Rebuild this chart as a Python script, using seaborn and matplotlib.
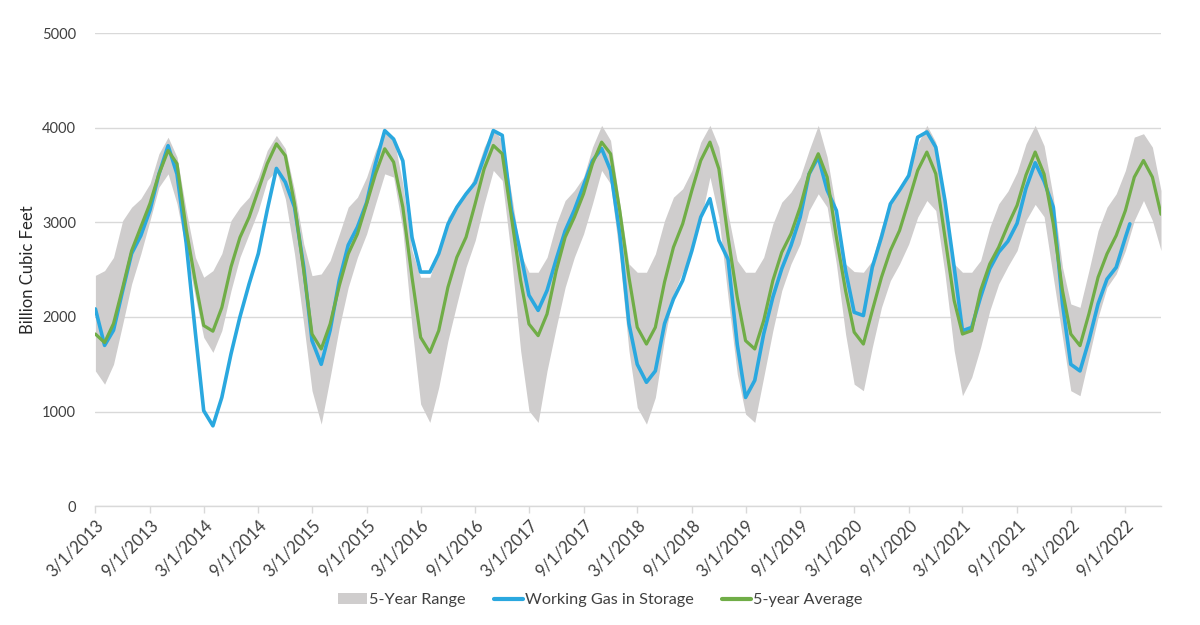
import numpy as np
import pandas as pd
import matplotlib
matplotlib.use("Agg")
import matplotlib.pyplot as plt
import matplotlib.dates as mdates
from matplotlib.patches import Patch
from matplotlib.lines import Line2D
import seaborn as sns

# ---------- data (Bcf, first of each month) ---------- #
month_starts = pd.date_range("2013-03-01", "2022-12-01", freq="MS")
range_end = pd.Timestamp("2022-12-30")
storage_end = pd.Timestamp("2022-09-16")

working_gas = [
    2085, 1700, 1860, 2280, 2670, 2860, 3130, 3510, 3810, 3510,   # 2013
    2780, 1830, 1010, 850, 1150, 1610, 2000, 2350, 2670, 3130, 3570, 3425,   # 2014
    3160, 2530, 1750, 1500, 1860, 2390, 2760, 2950, 3210, 3620, 3970, 3880,  # 2015
    3650, 2840, 2475, 2475, 2670, 2980, 3160, 3300, 3420, 3690, 3970, 3920,  # 2016
    3130, 2670, 2230, 2070, 2280, 2610, 2910, 3130, 3390, 3650, 3780, 3550,  # 2017
    2880, 1930, 1500, 1310, 1430, 1930, 2190, 2385, 2700, 3055, 3250, 2810,  # 2018
    2610, 1710, 1150, 1330, 1820, 2210, 2510, 2755, 3055, 3510, 3690, 3340,  # 2019
    3125, 2490, 2050, 2015, 2525, 2845, 3195, 3340, 3495, 3900, 3955, 3795,  # 2020
    3230, 2525, 1855, 1890, 2210, 2510, 2685, 2800, 2990, 3360, 3630, 3435,  # 2021
    3160, 2140, 1500, 1430, 1750, 2140, 2400, 2525, 2840,                    # 2022
]
working_gas_last = 2985

five_year_avg = [
    1820, 1730, 1930, 2310, 2700, 2950, 3200, 3510, 3760, 3620,
    2930, 2370, 1910, 1850, 2100, 2530, 2840, 3055, 3340, 3620, 3830, 3705,
    3196, 2490, 1820, 1662, 1926, 2332, 2667, 2878, 3196, 3513, 3778, 3637,
    3161, 2420, 1785, 1626, 1856, 2314, 2631, 2843, 3200, 3566, 3813, 3725,
    3055, 2385, 1926, 1803, 2032, 2490, 2843, 3055, 3302, 3619, 3848, 3725,
    3125, 2420, 1891, 1714, 1891, 2370, 2737, 2984, 3337, 3654, 3848, 3566,
    2843, 2208, 1750, 1662, 1961, 2385, 2684, 2878, 3161, 3513, 3725, 3478,
    2843, 2279, 1840, 1714, 2067, 2420, 2702, 2914, 3231, 3548, 3743, 3513,
    2843, 2173, 1820, 1856, 2279, 2561, 2737, 2970, 3180, 3500, 3743, 3510,
    2984, 2279, 1820, 1697, 2032, 2420, 2667, 2861, 3125, 3478, 3654, 3478,
    3086,
]

range_max = [
    2440, 2490, 2630, 3020, 3160, 3250, 3410, 3725, 3900, 3690,
    3125, 2630, 2420, 2490, 2670, 3020, 3160, 3266, 3478, 3760, 3919, 3780,
    3337, 2773, 2437, 2455, 2596, 2878, 3161, 3266, 3478, 3760, 3954, 3901,
    3407, 2702, 2420, 2420, 2702, 3055, 3196, 3284, 3510, 3795, 3989, 3866,
    3302, 2667, 2473, 2473, 2631, 2984, 3231, 3337, 3478, 3795, 4025, 3866,
    3196, 2561, 2473, 2473, 2667, 3020, 3266, 3355, 3549, 3848, 4025, 3795,
    3090, 2596, 2473, 2473, 2631, 2984, 3214, 3320, 3478, 3760, 4025, 3690,
    3125, 2561, 2480, 2473, 2596, 2949, 3214, 3337, 3513, 3831, 4025, 3848,
    3125, 2561, 2473, 2473, 2596, 2949, 3196, 3330, 3530, 3830, 4025, 3810,
    3266, 2526, 2138, 2102, 2490, 2914, 3161, 3302, 3549, 3901, 3937, 3795,
    3337,
]

range_min = [
    1430, 1290, 1500, 1926, 2349, 2667, 3020, 3372, 3513, 3196,
    2702, 2208, 1785, 1626, 1856, 2279, 2631, 2878, 3125, 3443, 3549, 3250,
    2667, 1926, 1221, 868, 1362, 1891, 2314, 2631, 2878, 3196, 3513, 3478,
    2914, 1891, 1080, 886, 1256, 1750, 2138, 2526, 2810, 3196, 3549, 3443,
    2631, 1644, 1009, 886, 1432, 1891, 2314, 2631, 2878, 3196, 3549, 3407,
    2631, 1644, 1044, 868, 1150, 1770, 2244, 2473, 2702, 3020, 3478, 3055,
    2208, 1397, 974, 886, 1362, 1856, 2279, 2561, 2773, 3125, 3302, 3161,
    2561, 1820, 1290, 1221, 1679, 2102, 2385, 2561, 2773, 3055, 3231, 3125,
    2455, 1644, 1168, 1362, 1679, 2067, 2349, 2535, 2702, 3020, 3190, 3060,
    2420, 1785, 1221, 1168, 1573, 1997, 2314, 2455, 2702, 3020, 3231, 3020,
    2702,
]

tick_dates = pd.date_range("2013-03-01", "2022-09-01", freq="6MS")

# ---------- frames ---------- #
range_dates = month_starts.append(pd.DatetimeIndex([range_end]))
storage_dates = month_starts[:len(working_gas)].append(pd.DatetimeIndex([storage_end]))

df_range = pd.DataFrame({"date": range_dates, "avg": five_year_avg,
                         "lo": range_min, "hi": range_max})
df_gas = pd.DataFrame({"date": storage_dates, "gas": working_gas + [working_gas_last]})

# ---------- plot ---------- #
sns.set_theme(style="white")
plt.rcParams["font.family"] = ["Lato", "DejaVu Sans"]

gray = "#cfcdcd"
blue = "#2aa8df"
green = "#70ad47"
text_col = "#404040"

fig = plt.figure(figsize=(12, 6.25), dpi=100)
ax = fig.add_axes([0.0795, 0.19, 0.888, 0.757])

ax.fill_between(df_range["date"], df_range["lo"], df_range["hi"],
                color=gray, linewidth=0, zorder=1)
sns.lineplot(data=df_gas, x="date", y="gas", ax=ax, color=blue,
             linewidth=2.6, zorder=3)
sns.lineplot(data=df_range, x="date", y="avg", ax=ax, color=green,
             linewidth=2.3, zorder=4)

ax.set_xlim(pd.Timestamp("2013-03-01"), range_end)
ax.set_ylim(0, 5000)
ax.set_yticks(np.arange(0, 5001, 1000))
ax.yaxis.grid(True, color="#d9d9d9", linewidth=1)
ax.set_axisbelow(True)

ax.set_xticks(mdates.date2num(tick_dates))
ax.set_xticklabels([f"{d.month}/{d.day}/{d.year}" for d in tick_dates],
                   rotation=45, ha="right", rotation_mode="anchor",
                   fontsize=12, color=text_col)
ax.tick_params(axis="x", length=5, width=1, color="#d9d9d9", pad=3, bottom=True)
ax.tick_params(axis="y", length=0, labelsize=10.5, labelcolor=text_col, pad=14)

for side in ["left", "right", "top"]:
    ax.spines[side].set_visible(False)
ax.spines["bottom"].set_color("#d9d9d9")
ax.spines["bottom"].set_linewidth(1)

ax.set_xlabel("")
ax.set_ylabel("Billion Cubic Feet", fontsize=12, color="#262626", labelpad=4)

handles = [Patch(facecolor=gray, edgecolor="none"),
           Line2D([0], [0], color=blue, linewidth=3),
           Line2D([0], [0], color=green, linewidth=3)]
labels = ["5-Year Range", "Working Gas in Storage", "5-year Average"]
fig.legend(handles, labels, loc="center", bbox_to_anchor=(0.5, 0.04), ncol=3,
           frameon=False, fontsize=11.7, handlelength=1.8, handletextpad=0.1,
           columnspacing=1.75, labelcolor=text_col)

fig.savefig("out.png", dpi=100, facecolor="white")
